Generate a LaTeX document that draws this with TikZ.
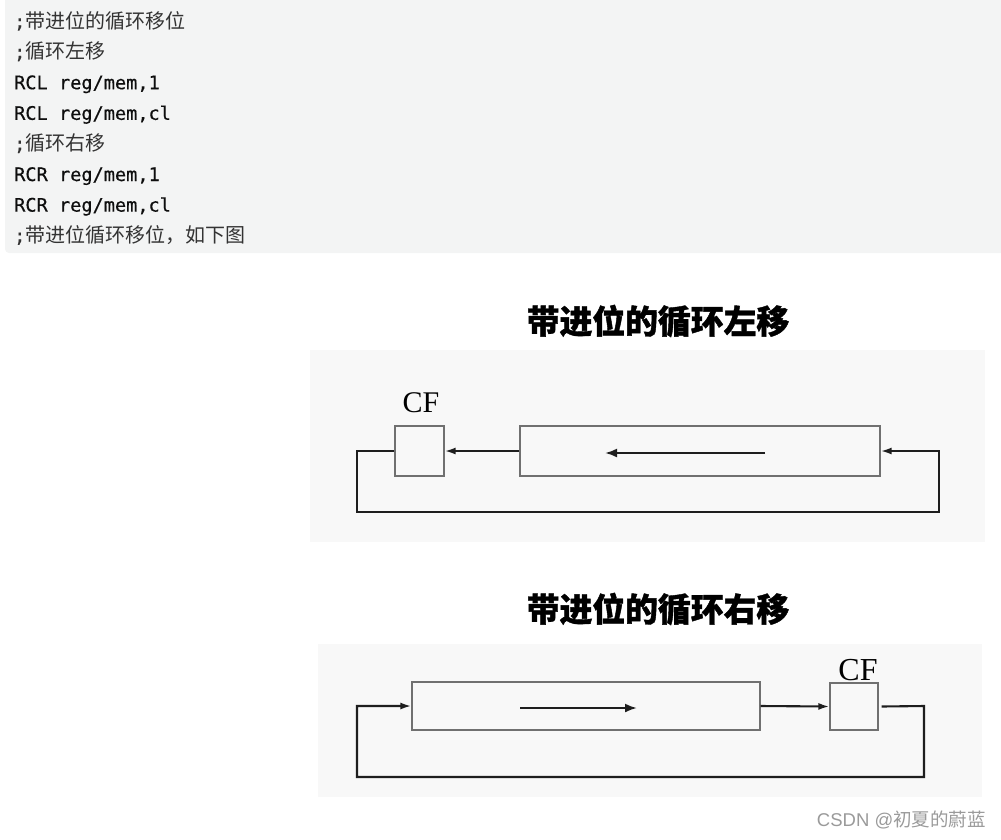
\documentclass[tikz,border=0pt]{standalone}
\usepackage{fontspec}
\setmainfont{Liberation Serif}
\setmonofont{DejaVu Sans Mono}[FakeBold=0.5]
\newfontfamily\cjk{Noto Sans CJK SC}
\newfontfamily\cjkh{Noto Sans CJK SC}[BoldFeatures={FakeBold=1.2}]
\newfontfamily\wmlatin{Liberation Sans}
\usetikzlibrary{arrows.meta}
\definecolor{codebg}{HTML}{F3F4F4}
\definecolor{panelbg}{HTML}{F8F8F8}
\definecolor{linec}{HTML}{1E1E1E}
\definecolor{boxc}{HTML}{707070}
\definecolor{codetext}{HTML}{0E0E0E}
\definecolor{cmttext}{HTML}{333333}
\definecolor{wm}{HTML}{9A9A9A}
\tikzset{
  codeline/.style={anchor=base west, inner sep=0pt, text=codetext, font=\fontsize{18.6}{20}\selectfont\ttfamily},
  cmtline/.style={anchor=base west, inner sep=0pt, text=cmttext, font=\fontsize{20}{21}\selectfont\cjk},
  titletext/.style={inner sep=0pt, font=\fontsize{32.8}{34}\selectfont\cjkh\bfseries},
  cflabel/.style={inner sep=0pt, font=\fontsize{30}{32}\selectfont},
  regbox/.style={draw=boxc, line width=1.2pt, inner sep=0pt},
  conn/.style={draw=linec, line width=2.1pt},
  arr/.style={-{Latex[length=11pt,width=7pt]}},
  bigarr/.style={-{Latex[length=12pt,width=9pt]}},
}
\begin{document}
\begin{tikzpicture}[x=1pt,y=-1pt]
\useasboundingbox (0,0) rectangle (1001,839);
% backgrounds
\fill[codebg, rounded corners=4pt] (5,-5) rectangle (1006,253);
\fill[panelbg] (310,350) rectangle (985,542);
\fill[panelbg] (318,644) rectangle (982,797);
% code block
\node[cmtline]  (t1) at (14,28)    {{\ttfamily\fontsize{18.6}{20}\selectfont;}带进位的循环移位};
\node[cmtline]  (t2) at (14,58.6)  {{\ttfamily\fontsize{18.6}{20}\selectfont;}循环左移};
\node[codeline] (t3) at (14,89.2)  {RCL reg/mem,1};
\node[codeline] (t4) at (14,119.8) {RCL reg/mem,cl};
\node[cmtline]  (t5) at (14,150.4) {{\ttfamily\fontsize{18.6}{20}\selectfont;}循环右移};
\node[codeline] (t6) at (14,181)   {RCR reg/mem,1};
\node[codeline] (t7) at (14,211.6) {RCR reg/mem,cl};
\node[cmtline]  (t8) at (14,242.2) {{\ttfamily\fontsize{18.6}{20}\selectfont;}带进位循环移位，如下图};
% diagram 1
\node[titletext] (title1) at (658,321) {带进位的循环左移};
\node[cflabel] (cfl1) at (421,403) {CF};
\node[regbox, minimum width=49pt, minimum height=50pt] (cf1) at (419.5,451) {};
\node[regbox, minimum width=360pt, minimum height=50pt] (big1) at (700,451) {};
\coordinate (a1s) at (765,453);
\coordinate (a1e) at (605,453);
\draw[conn,bigarr] (a1s) -- (a1e);
\draw[conn,arr] (big1.west) -- (cf1.east);
\coordinate (l1a) at (357,451);
\coordinate (l1b) at (939,512);
\draw[conn,arr] (cf1.west) -- (l1a) |- (l1b) |- (big1.east);
% diagram 2
\node[titletext] (title2) at (658,609) {带进位的循环右移};
\node[cflabel, font=\fontsize{32}{34}\selectfont] (cfl2) at (858,670) {CF};
\node[regbox, minimum width=348pt, minimum height=48pt] (big2) at (586,706) {};
\node[regbox, minimum width=48pt, minimum height=47pt] (cf2) at (854,706.5) {};
\coordinate (a2s) at (520,708);
\coordinate (a2e) at (637,708);
\draw[conn,bigarr] (a2s) -- (a2e);
\draw[conn,arr] (big2.east) -- (cf2.west);
\coordinate (l2a) at (924,706);
\coordinate (l2b) at (357,777);
\draw[conn,arr] ([xshift=3pt]cf2.east) -- (l2a) |- (l2b) |- (big2.west);
% watermark
\node[anchor=east, inner sep=0pt, text=wm, font=\fontsize{18.5}{19}\selectfont\cjk] (wmark) at (986,820) {{\wmlatin CSDN @}初夏的蔚蓝};
\end{tikzpicture}
\end{document}
